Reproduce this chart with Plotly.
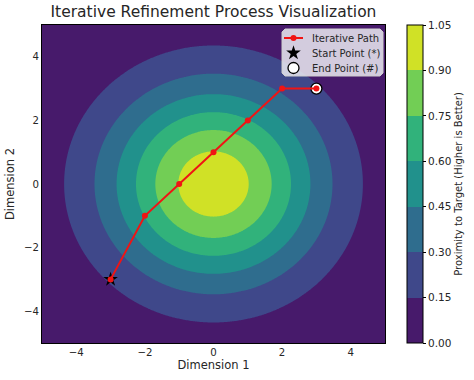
import numpy as np
import plotly.graph_objects as go

# Path data
path_x = [-3, -2, -1, 0, 1, 2, 3]
path_y = [-3, -1, 0, 1, 2, 3, 3]
start_pt = (-3, -3)
end_pt = (3, 3)

# Contour levels
level_start, level_end, level_step = 0.0, 1.05, 0.15
cbar_ticks = [0.0, 0.15, 0.30, 0.45, 0.60, 0.75, 0.90, 1.05]
band_colors = ["#471a6b", "#3f488a", "#2f6d8e", "#21918c", "#31b27b", "#72ce55", "#d0e126"]
legend_labels = ["Iterative Path", "Start Point (*)", "End Point (#)"]

FONT = "DejaVu Sans"
TXT = "#262626"
RED = "#f01414"

# Field: proximity to target (gaussian around origin)
gx = np.linspace(-5, 5, 301)
gy = np.linspace(-5, 5, 301)
X, Y = np.meshgrid(gx, gy)
Z = np.exp(-(X**2 + Y**2) / 10.0)

# Step colorscale for plotly's contour fill mapping (band k -> p=(k+1)/8)
nc = 8
cols = [band_colors[0]] + band_colors + [band_colors[-1]]
fill_scale = []
for k, c in enumerate(cols):
    lo = max(0.0, (k - 0.5) / nc)
    hi = min(1.0, (k + 0.5) / nc)
    fill_scale.append([lo, c])
    fill_scale.append([hi, c])

# Discrete colorscale for the colorbar (7 equal bands over 0..1.05)
nb = len(band_colors)
bar_scale = []
for k, c in enumerate(band_colors):
    bar_scale.append([k / nb, c])
    bar_scale.append([(k + 1) / nb, c])

fig = go.Figure()
fig.add_trace(go.Contour(
    x=gx, y=gy, z=Z,
    contours=dict(start=level_start, end=level_end, size=level_step, coloring="fill", showlines=False),
    colorscale=fill_scale, line=dict(width=0),
    showscale=False, hoverinfo="skip", showlegend=False,
))

# Colorbar carrier (off-range invisible points)
fig.add_trace(go.Scatter(
    x=[-100, -100], y=[-100, -100], mode="markers", showlegend=False, hoverinfo="skip",
    marker=dict(color=[level_start, level_end], cmin=level_start, cmax=level_end, colorscale=bar_scale,
                size=1, opacity=0, showscale=True,
                colorbar=dict(
                    x=1.0 + (407 - 385) / 343, xanchor="left", xpad=0, y=0.5, yanchor="middle",
                    len=1.0, lenmode="fraction", ypad=0,
                    thickness=16, outlinecolor="black", outlinewidth=1,
                    tickvals=cbar_ticks, tickformat=".2f", ticks="outside", ticklen=3, tickcolor="black",
                    tickfont=dict(family=FONT, size=10.5, color=TXT),
                    title=dict(text="Proximity to Target (Higher is Better)", side="right",
                               font=dict(family=FONT, size=10, color=TXT)),
                )),
))

fig.add_trace(go.Scatter(
    x=[start_pt[0]], y=[start_pt[1]], mode="markers", showlegend=False,
    marker=dict(symbol="star", size=11, color="black"),
))
fig.add_trace(go.Scatter(
    x=[end_pt[0]], y=[end_pt[1]], mode="markers", showlegend=False,
    marker=dict(symbol="circle", size=11, color="white", line=dict(color="black", width=1.3)),
))
fig.add_trace(go.Scatter(
    x=path_x, y=path_y, mode="lines+markers", showlegend=False,
    line=dict(color=RED, width=2), marker=dict(color=RED, size=6),
))

# Custom legend on an overlay pixel-like axis (0..343 x 0..318)
bx0, bx1, by0, by1, r = 240, 341, 267, 314, 3
box_x = [bx0 + r, bx1 - r, bx1, bx1, bx1 - r, bx0 + r, bx0, bx0, bx0 + r]
box_y = [by0, by0, by0 + r, by1 - r, by1, by1, by1 - r, by0 + r, by0]
fig.add_trace(go.Scatter(
    x=box_x, y=box_y, xaxis="x2", yaxis="y2", mode="lines", fill="toself",
    fillcolor="rgba(236,236,242,0.85)", line=dict(color="#cfcfcf", width=1),
    showlegend=False, hoverinfo="skip",
))
rows = [305, 290, 275]
hx0, hx1, hxm, tx = 242, 261, 251.5, 268
fig.add_trace(go.Scatter(
    x=[hx0, hxm, hx1], y=[rows[0]] * 3, xaxis="x2", yaxis="y2", mode="lines",
    line=dict(color=RED, width=2), showlegend=False, hoverinfo="skip",
))
fig.add_trace(go.Scatter(
    x=[hxm], y=[rows[0]], xaxis="x2", yaxis="y2", mode="markers",
    marker=dict(color=RED, size=6), showlegend=False, hoverinfo="skip",
))
fig.add_trace(go.Scatter(
    x=[hxm], y=[rows[1]], xaxis="x2", yaxis="y2", mode="markers",
    marker=dict(symbol="star", size=11, color="black"), showlegend=False, hoverinfo="skip",
))
fig.add_trace(go.Scatter(
    x=[hxm], y=[rows[2]], xaxis="x2", yaxis="y2", mode="markers",
    marker=dict(symbol="circle", size=11, color="white", line=dict(color="black", width=1.3)),
    showlegend=False, hoverinfo="skip",
))
for lbl, ry in zip(legend_labels, rows):
    fig.add_annotation(x=tx, y=ry, xref="x2", yref="y2", text=lbl, showarrow=False,
                       xanchor="left", yanchor="middle", font=dict(family=FONT, size=10, color=TXT))

axis_common = dict(
    showgrid=True, gridcolor="rgba(255,255,255,0.35)", griddash="dash", gridwidth=1,
    zeroline=False, showline=True, linecolor="black", linewidth=1, mirror=True,
    ticks="", ticklabelstandoff=0,
    tickfont=dict(family=FONT, size=10.2, color=TXT),
    tickvals=[-4, -2, 0, 2, 4], automargin=False,
)
fig.update_xaxes(range=[-5, 5],
                 title=dict(text="Dimension 1", font=dict(family=FONT, size=11.5, color=TXT), standoff=2), **axis_common)
fig.update_yaxes(range=[-5, 5],
                 title=dict(text="Dimension 2", font=dict(family=FONT, size=11.5, color=TXT), standoff=6), **axis_common)

fig.update_layout(
    xaxis2=dict(overlaying="x", range=[0, 343], visible=False, fixedrange=True),
    yaxis2=dict(overlaying="y", range=[0, 318], visible=False, fixedrange=True),
    width=474, height=380,
    margin=dict(l=42, r=89, t=25, b=37, autoexpand=False),
    paper_bgcolor="white", plot_bgcolor="white",
    title=dict(text="Iterative Refinement Process Visualization", x=(42 + 385) / 2 / 474, xanchor="center",
               y=1 - 12 / 380, yanchor="middle", font=dict(family=FONT, size=15.5, color=TXT)),
    showlegend=False,
)

fig.write_html("out.html", config={"displayModeBar": False},
               post_script="document.body.style.margin='0px';")
